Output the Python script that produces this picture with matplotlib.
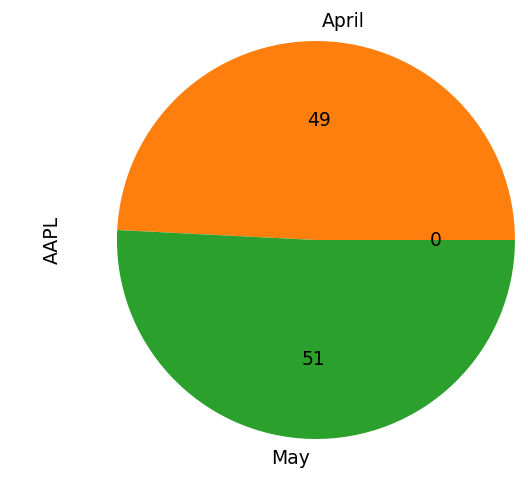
import matplotlib
matplotlib.use('Agg')
import matplotlib.pyplot as plt

# first slice label sits outside the cropped picture, so left blank
months = ['', 'April', 'May']
aapl = [0.0, 49.2, 50.8]
colors = ['#1f77b4', '#ff7f0e', '#2ca02c']

plt.rcParams['font.size'] = 13.5

fig = plt.figure(figsize=(5.28, 4.9), dpi=100)
ax = fig.add_axes([0.1273, 0.00255, 0.9422, 1.0153])

ax.pie(aapl, labels=months, colors=colors, autopct='%.0f')
ax.set_xlim(-1.25, 1.25)
ax.set_ylim(-1.25, 1.25)
ax.set_aspect('equal')
ax.set_ylabel('AAPL')

fig.savefig('out.png', dpi=100)
